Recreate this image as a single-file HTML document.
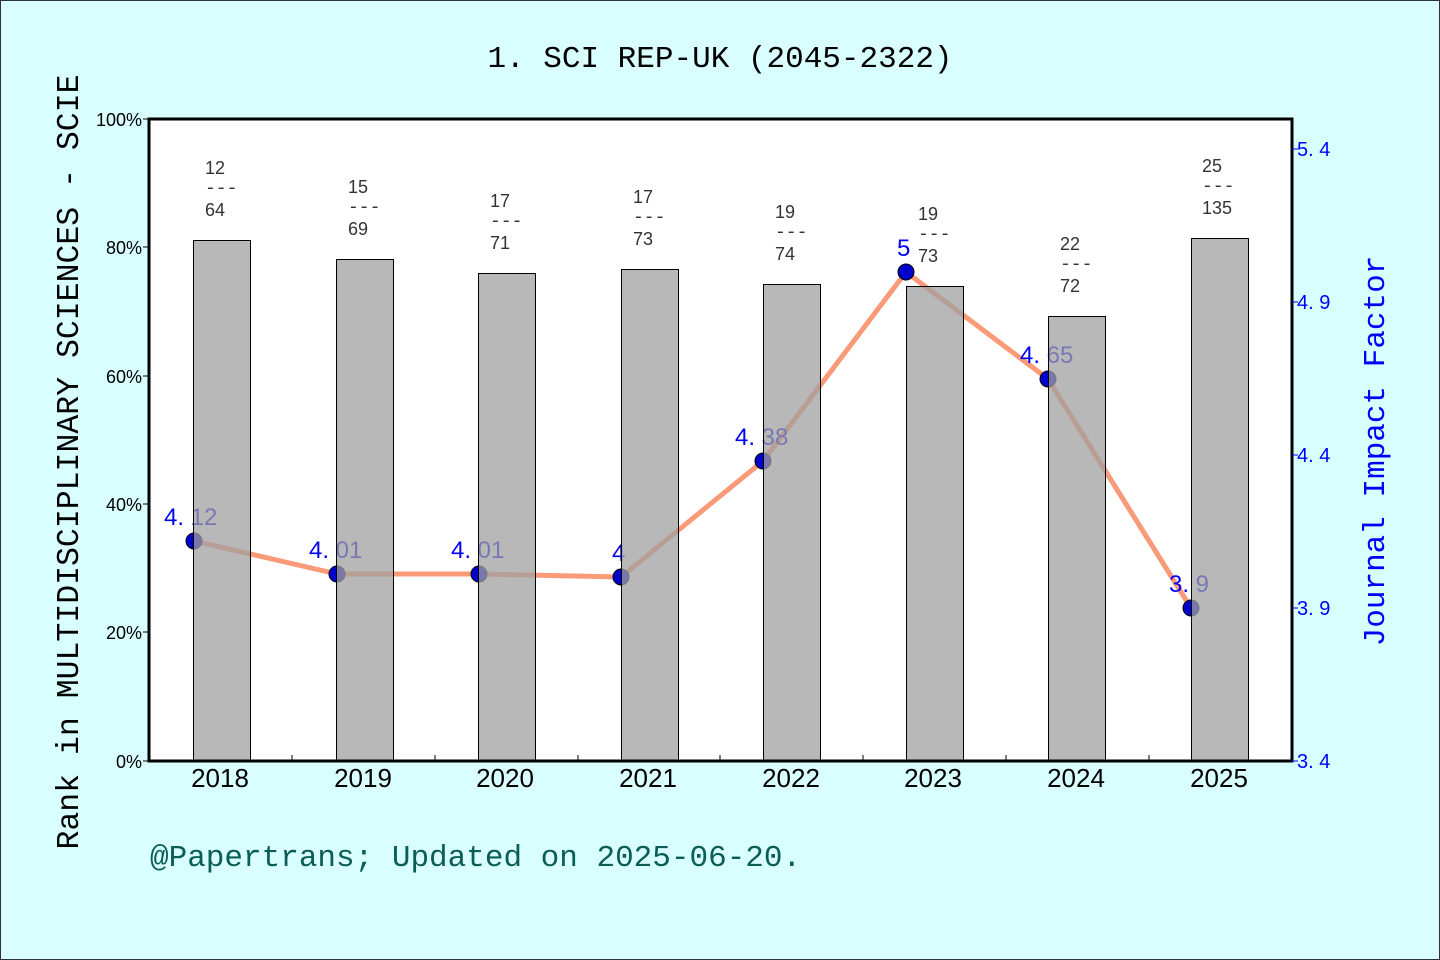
<!DOCTYPE html>
<html><head><meta charset="utf-8"><style>
html,body{margin:0;padding:0;background:#d8fefe;}
svg{display:block;}
</style></head><body>
<svg width="1440" height="960" xmlns="http://www.w3.org/2000/svg">
<rect x="0.5" y="0.5" width="1439" height="959" fill="#d8fefe" stroke="#333" stroke-width="1"/>
<rect x="149" y="119" width="1143" height="642" fill="#fff"/>
<text x="720" y="67" font-family="Liberation Mono, monospace" font-size="31" text-anchor="middle" fill="#000">1. SCI REP-UK (2045-2322)</text>
<polyline points="194,541 337,574 479,574 621,577 763,461 906,272 1048,379 1191,608" fill="none" stroke="#fa9a78" stroke-width="5" stroke-linejoin="round"/>
<g fill="#0000cc" stroke="#000" stroke-width="1">
<circle cx="194" cy="541" r="8"/><circle cx="337" cy="574" r="8"/><circle cx="479" cy="574" r="8"/><circle cx="621" cy="577" r="8"/><circle cx="763" cy="461" r="8"/><circle cx="906" cy="272" r="8"/><circle cx="1048" cy="379" r="8"/><circle cx="1191" cy="608" r="8"/>
</g>
<g font-family="Liberation Sans, sans-serif" font-size="24" fill="#0000ee">
<text x="164" y="525">4. 12</text><text x="309" y="558">4. 01</text><text x="451" y="558">4. 01</text><text x="612" y="561">4</text><text x="735" y="445">4. 38</text><text x="897" y="256">5</text><text x="1020" y="363">4. 65</text><text x="1169" y="592">3. 9</text>
</g>
<g fill="#a0a0a0" fill-opacity="0.75" stroke="#000" stroke-width="1">
<rect x="193.5" y="240.5" width="57" height="520"/>
<rect x="336.5" y="259.5" width="57" height="501"/>
<rect x="478.5" y="273.5" width="57" height="487"/>
<rect x="621.5" y="269.5" width="57" height="491"/>
<rect x="763.5" y="284.5" width="57" height="476"/>
<rect x="906.5" y="286.5" width="57" height="474"/>
<rect x="1048.5" y="316.5" width="57" height="444"/>
<rect x="1191.5" y="238.5" width="57" height="522"/>
</g>
<g font-family="Liberation Sans, sans-serif" font-size="18" fill="#333">
<text x="205" y="174">12</text><text x="205" y="216">64</text>
<text x="348" y="193">15</text><text x="348" y="235">69</text>
<text x="490" y="207">17</text><text x="490" y="249">71</text>
<text x="633" y="203">17</text><text x="633" y="245">73</text>
<text x="775" y="218">19</text><text x="775" y="260">74</text>
<text x="918" y="220">19</text><text x="918" y="262">73</text>
<text x="1060" y="250">22</text><text x="1060" y="292">72</text>
<text x="1202" y="172">25</text><text x="1202" y="214">135</text>
</g>
<g font-family="Liberation Mono, monospace" font-size="18" fill="#333">
<text x="205" y="193">---</text><text x="348" y="212">---</text><text x="490" y="226">---</text><text x="633" y="222">---</text><text x="775" y="237">---</text><text x="918" y="239">---</text><text x="1060" y="269">---</text><text x="1202" y="191">---</text>
</g>
<rect x="149" y="119" width="1143" height="642" fill="none" stroke="#000" stroke-width="3"/>
<g stroke="#000" stroke-width="1">
<line x1="143" y1="119" x2="149" y2="119"/><line x1="143" y1="247" x2="149" y2="247"/><line x1="143" y1="376" x2="149" y2="376"/><line x1="143" y1="504" x2="149" y2="504"/><line x1="143" y1="632" x2="149" y2="632"/><line x1="143" y1="761" x2="149" y2="761"/>
<line x1="292" y1="761" x2="292" y2="755"/><line x1="435" y1="761" x2="435" y2="755"/><line x1="578" y1="761" x2="578" y2="755"/><line x1="720" y1="761" x2="720" y2="755"/><line x1="863" y1="761" x2="863" y2="755"/><line x1="1006" y1="761" x2="1006" y2="755"/><line x1="1149" y1="761" x2="1149" y2="755"/>
</g>
<g stroke="#0000ff" stroke-width="1">
<line x1="1292" y1="149" x2="1298" y2="149"/><line x1="1292" y1="302" x2="1298" y2="302"/><line x1="1292" y1="455" x2="1298" y2="455"/><line x1="1292" y1="608" x2="1298" y2="608"/><line x1="1292" y1="761" x2="1298" y2="761"/>
</g>
<g font-family="Liberation Sans, sans-serif" font-size="18" fill="#000" text-anchor="end">
<text x="142" y="126">100%</text><text x="142" y="254">80%</text><text x="142" y="383">60%</text><text x="142" y="511">40%</text><text x="142" y="639">20%</text><text x="142" y="768">0%</text>
</g>
<g font-family="Liberation Sans, sans-serif" font-size="20" fill="#0000ff">
<text x="1297" y="156">5. 4</text><text x="1297" y="309">4. 9</text><text x="1297" y="462">4. 4</text><text x="1297" y="615">3. 9</text><text x="1297" y="768">3. 4</text>
</g>
<g font-family="Liberation Sans, sans-serif" font-size="26" fill="#000" text-anchor="middle">
<text x="220" y="787">2018</text><text x="363" y="787">2019</text><text x="505" y="787">2020</text><text x="648" y="787">2021</text><text x="791" y="787">2022</text><text x="933" y="787">2023</text><text x="1076" y="787">2024</text><text x="1219" y="787">2025</text>
</g>
<text transform="translate(78,462) rotate(-90)" font-family="Liberation Mono, monospace" font-size="31.5" text-anchor="middle" fill="#000">Rank in MULTIDISCIPLINARY SCIENCES - SCIE</text>
<text transform="translate(1384,451) rotate(-90)" font-family="Liberation Mono, monospace" font-size="31" text-anchor="middle" fill="#0000ff">Journal Impact Factor</text>
<text x="150" y="866" font-family="Liberation Mono, monospace" font-size="31" fill="#0b5e55">@Papertrans; Updated on 2025-06-20.</text>
</svg>
</body></html>
